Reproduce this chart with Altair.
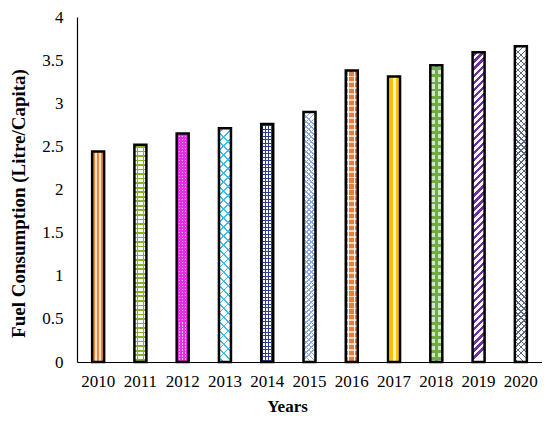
import altair as alt
import pandas as pd

years = ["2010", "2011", "2012", "2013", "2014", "2015", "2016", "2017", "2018", "2019", "2020"]
values = [2.44, 2.52, 2.65, 2.71, 2.76, 2.90, 3.38, 3.31, 3.44, 3.59, 3.66]
y_ticks = [0, 0.5, 1, 1.5, 2, 2.5, 3, 3.5, 4]

df = pd.DataFrame({"Year": years, "Value": values})

PLOT_W, PLOT_H, Y_MAX = 465, 345, 4
BAR_W = 12


def stripes(color, bg, n, x1, y1, x2, y2, frac=0.5):
    # each period: bg, centred colour line, bg -> both ends of gradient are bg
    stops = []
    for i in range(n):
        a = i / n
        b = (i + (1 - frac) / 2) / n
        c = (i + (1 + frac) / 2) / n
        d = (i + 1) / n
        stops += [
            {"offset": a, "color": bg},
            {"offset": b, "color": bg},
            {"offset": b, "color": color},
            {"offset": c, "color": color},
            {"offset": c, "color": bg},
            {"offset": d, "color": bg},
        ]
    return {"gradient": "linear", "x1": x1, "y1": y1, "x2": x2, "y2": y2, "stops": stops}


def horiz(color, bg, period, h, frac=0.5):
    return stripes(color, bg, max(1, round(h / period)), 0, 0, 0, 1, frac)


def vert(color, bg, n, frac=0.5):
    return stripes(color, bg, n, 0, 0, 1, 0, frac)


def diag_up(color, bg, period, h, frac=0.5):
    r = BAR_W / h
    return stripes(color, bg, max(1, round(h / period)), 0, 0, r, 1, frac)


def diag_down(color, bg, period, h, frac=0.5):
    r = BAR_W / h
    return stripes(color, bg, max(1, round(h / period)), r, 0, 0, 1, frac)


T = "rgba(255,255,255,0)"


def patterns(year, h):
    if year == "2010":
        return [vert("#E5883A", "#F8DDC2", 3, 0.5)]
    if year == "2011":
        return [horiz("#86B424", "#FFFFFF", 4.5, h, 0.38), vert("#86B424", T, 2, 0.14)]
    if year == "2012":
        return [horiz("#E22EE0", "#F7B8F5", 3, h, 0.6), vert("#E22EE0", T, 4, 0.5)]
    if year == "2013":
        return [diag_up("#3DBDF0", "#FFFFFF", 9, h, 0.2), diag_down("#3DBDF0", T, 9, h, 0.2)]
    if year == "2014":
        return [horiz("#2B3F91", "#FFFFFF", 3.5, h, 0.4), vert("#2B3F91", T, 4, 0.3)]
    if year == "2015":
        return [diag_up("#8FAADC", "#FFFFFF", 5, h, 0.35), diag_down("#8FAADC", T, 5, h, 0.3)]
    if year == "2016":
        return [horiz("#ED7D31", "#FBD3B8", 6, h, 0.7), vert("#FFFFFF", T, 2, 0.15)]
    if year == "2017":
        return [horiz("#FFC000", "#FFFFFF", 8, h, 0.5), vert("#FFC000", "#FFF3C8", 2, 0.5)]
    if year == "2018":
        return [horiz("#70AD47", "#D5E8C6", 7, h, 0.4), vert("#70AD47", T, 1, 0.3)]
    if year == "2019":
        return [diag_up("#7030A0", "#FFFFFF", 7, h, 0.45)]
    return [diag_up("#5C6A85", "#FFFFFF", 6, h, 0.2), diag_down("#5C6A85", T, 6, h, 0.2)]


x_enc = alt.X(
    "Year:N",
    sort=years,
    scale=alt.Scale(paddingInner=0, paddingOuter=0),
    axis=alt.Axis(
        title="Years",
        labelFont="Liberation Serif",
        labelFontSize=17,
        labelColor="#000000",
        labelAngle=0,
        labelPadding=11,
        ticks=False,
        domainColor="#000000",
        domainWidth=1.2,
        titleFont="Liberation Serif",
        titleFontSize=17,
        titleFontWeight="bold",
        titleColor="#000000",
        titleX=210,
        titleY=49,
        titleBaseline="alphabetic",
        titleAlign="center",
    ),
)
y_enc = alt.Y(
    "Value:Q",
    scale=alt.Scale(domain=[0, Y_MAX], nice=False, zero=True),
    axis=alt.Axis(
        title="Fuel Consumption (Litre/Capita)",
        values=y_ticks,
        format="~g",
        labelFont="Liberation Serif",
        labelFontSize=17,
        labelColor="#000000",
        labelPadding=14,
        ticks=False,
        grid=False,
        domainColor="#000000",
        domainWidth=1.2,
        titleFont="Liberation Serif",
        titleFontSize=19,
        titleFontWeight="bold",
        titleColor="#000000",
        titleAngle=-90,
        titleX=-59,
        titleY=186,
        titleAlign="center",
        titleBaseline="middle",
    ),
)

base = alt.Chart(df).encode(x=x_enc, y=y_enc)

layers = []
for yr, v in zip(years, values):
    h = v / Y_MAX * PLOT_H
    for g in patterns(yr, h):
        layers.append(
            base.transform_filter(alt.datum.Year == yr).mark_bar(size=BAR_W, fill=g, strokeWidth=0)
        )

layers.append(
    base.mark_bar(size=BAR_W, fillOpacity=0, stroke="#000000", strokeWidth=2.5)
)

chart = (
    alt.layer(*layers)
    .properties(
        width=PLOT_W,
        height=PLOT_H,
        autosize=alt.AutoSizeParams(type="none"),
        padding={"left": 69, "top": 9, "right": 0, "bottom": 52},
        background="#FFFFFF",
    )
    .configure_view(stroke=None)
)

chart.save("out.html", embed_options={"renderer": "svg", "actions": False})
